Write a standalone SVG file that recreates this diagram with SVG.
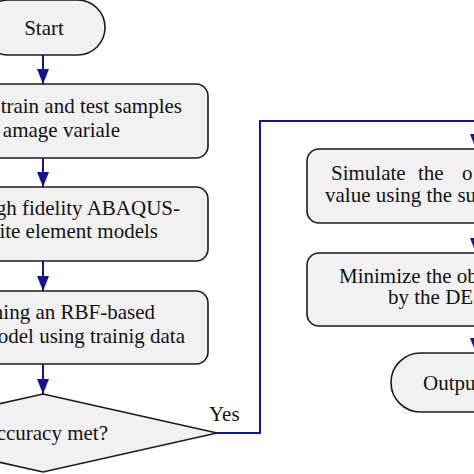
<svg xmlns="http://www.w3.org/2000/svg" width="474" height="474" viewBox="0 0 474 474">
<defs>
<style>
.box{fill:#f1f1f1;stroke:#1a1a1a;stroke-width:1.6}
.t{font-family:"Liberation Serif","Times New Roman",serif;font-size:21px;fill:#111}
.e{text-anchor:end}
.c{text-anchor:middle}
.conn{fill:none;stroke:#14148c;stroke-width:2}
</style>
<marker id="ah" viewBox="0 0 15 12" refX="15" refY="6" markerWidth="15" markerHeight="12" markerUnits="userSpaceOnUse" orient="auto">
<path d="M0,0 L15,6 L0,12 z" fill="#14148c"/>
</marker>
</defs>
<rect width="474" height="474" fill="#fff"/>
<g id="connectors">
<line class="conn" x1="43" y1="55" x2="43" y2="84" marker-end="url(#ah)"/>
<line class="conn" x1="43" y1="158" x2="43" y2="187" marker-end="url(#ah)"/>
<line class="conn" x1="43" y1="261" x2="43" y2="291" marker-end="url(#ah)"/>
<line class="conn" x1="43" y1="364" x2="43" y2="394" marker-end="url(#ah)"/>
<polyline class="conn" points="217,433 260,433 260,121 476,121 476,149" marker-end="url(#ah)"/>
<line class="conn" x1="476" y1="223" x2="476" y2="253" marker-end="url(#ah)"/>
<line class="conn" x1="476" y1="326" x2="476" y2="353" marker-end="url(#ah)"/>
<text class="t" x="209" y="421">Yes</text>
</g>
<g id="start">
<rect class="box" x="-19" y="0" width="124" height="55" rx="27.5"/>
<text class="t c" x="44" y="35">Start</text>
</g>
<g id="samples">
<rect class="box" x="-122" y="84" width="330" height="74" rx="12"/>
<text class="t e" x="182" y="113">train and test samples</text>
<text class="t e" x="120" y="137">amage variale</text>
</g>
<g id="abaqus">
<rect class="box" x="-122" y="187" width="330" height="74" rx="12"/>
<text class="t e" x="180" y="215">gh fidelity ABAQUS-</text>
<text class="t e" x="158" y="238">ite element models</text>
</g>
<g id="rbf">
<rect class="box" x="-122" y="291" width="330" height="73" rx="12"/>
<text class="t e" x="155" y="319">ning an RBF-based</text>
<text class="t e" x="185" y="343">odel using trainig data</text>
</g>
<g id="accuracy">
<polygon class="box" points="43,394 217,433 43,472 -131,433"/>
<text class="t e" x="108" y="440">ccuracy met?</text>
</g>
<g id="simulate">
<rect class="box" x="307" y="149" width="340" height="74" rx="12"/>
<text class="t" y="180"><tspan x="331">Simulate</tspan><tspan x="418">the</tspan><tspan x="462">o</tspan></text>
<text class="t" x="325" y="202">value using the su</text>
</g>
<g id="minimize">
<rect class="box" x="307" y="253" width="340" height="73" rx="12"/>
<text class="t" x="339" y="283">Minimize the ob</text>
<text class="t" x="388" y="304">by the DE</text>
</g>
<g id="output">
<rect class="box" x="391" y="353" width="170" height="59" rx="29.5"/>
<text class="t" x="423" y="390">Outpu</text>
</g>
</svg>
